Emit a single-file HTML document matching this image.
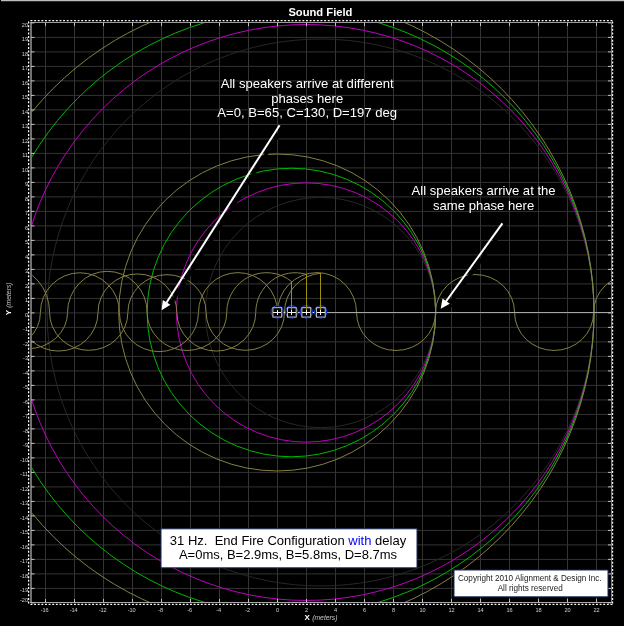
<!DOCTYPE html>
<html><head><meta charset="utf-8"><title>Sound Field</title>
<style>
html,body{margin:0;padding:0;background:#000;}
body{width:624px;height:626px;overflow:hidden;position:relative;font-family:"Liberation Sans",Arial,sans-serif;}
svg{position:absolute;left:0;top:0;display:block}
text{font-family:"Liberation Sans",Arial,sans-serif;}
</style></head><body>
<svg width="624" height="626" viewBox="0 0 624 626">
<defs><clipPath id="c"><rect x="31.0" y="22.6" width="580.0" height="579.8"/></clipPath>
<filter id="bl" x="-20%" y="-20%" width="140%" height="140%"><feGaussianBlur stdDeviation="0.6"/></filter></defs>
<rect x="0" y="0" width="624" height="626" fill="#000"/>
<rect x="1" y="0" width="623" height="1.25" fill="#bdbdbd"/>

<g stroke="#343434" stroke-width="1">
<line x1="45.5" y1="22.6" x2="45.5" y2="602.4"/>
<line x1="74.5" y1="22.6" x2="74.5" y2="602.4"/>
<line x1="103.5" y1="22.6" x2="103.5" y2="602.4"/>
<line x1="132.5" y1="22.6" x2="132.5" y2="602.4"/>
<line x1="161.5" y1="22.6" x2="161.5" y2="602.4"/>
<line x1="190.5" y1="22.6" x2="190.5" y2="602.4"/>
<line x1="219.5" y1="22.6" x2="219.5" y2="602.4"/>
<line x1="248.5" y1="22.6" x2="248.5" y2="602.4"/>
<line x1="277.5" y1="22.6" x2="277.5" y2="602.4"/>
<line x1="306.5" y1="22.6" x2="306.5" y2="602.4"/>
<line x1="335.5" y1="22.6" x2="335.5" y2="602.4"/>
<line x1="364.5" y1="22.6" x2="364.5" y2="602.4"/>
<line x1="393.5" y1="22.6" x2="393.5" y2="602.4"/>
<line x1="422.5" y1="22.6" x2="422.5" y2="602.4"/>
<line x1="451.5" y1="22.6" x2="451.5" y2="602.4"/>
<line x1="480.5" y1="22.6" x2="480.5" y2="602.4"/>
<line x1="509.5" y1="22.6" x2="509.5" y2="602.4"/>
<line x1="538.5" y1="22.6" x2="538.5" y2="602.4"/>
<line x1="567.5" y1="22.6" x2="567.5" y2="602.4"/>
<line x1="596.5" y1="22.6" x2="596.5" y2="602.4"/>
<line x1="31.0" y1="588.40" x2="611.0" y2="588.40"/>
<line x1="31.0" y1="573.90" x2="611.0" y2="573.90"/>
<line x1="31.0" y1="559.40" x2="611.0" y2="559.40"/>
<line x1="31.0" y1="544.90" x2="611.0" y2="544.90"/>
<line x1="31.0" y1="530.40" x2="611.0" y2="530.40"/>
<line x1="31.0" y1="515.90" x2="611.0" y2="515.90"/>
<line x1="31.0" y1="501.40" x2="611.0" y2="501.40"/>
<line x1="31.0" y1="486.90" x2="611.0" y2="486.90"/>
<line x1="31.0" y1="472.40" x2="611.0" y2="472.40"/>
<line x1="31.0" y1="457.90" x2="611.0" y2="457.90"/>
<line x1="31.0" y1="443.40" x2="611.0" y2="443.40"/>
<line x1="31.0" y1="428.90" x2="611.0" y2="428.90"/>
<line x1="31.0" y1="414.40" x2="611.0" y2="414.40"/>
<line x1="31.0" y1="399.90" x2="611.0" y2="399.90"/>
<line x1="31.0" y1="385.40" x2="611.0" y2="385.40"/>
<line x1="31.0" y1="370.90" x2="611.0" y2="370.90"/>
<line x1="31.0" y1="356.40" x2="611.0" y2="356.40"/>
<line x1="31.0" y1="341.90" x2="611.0" y2="341.90"/>
<line x1="31.0" y1="327.40" x2="611.0" y2="327.40"/>
<line x1="31.0" y1="312.90" x2="611.0" y2="312.90"/>
<line x1="31.0" y1="298.40" x2="611.0" y2="298.40"/>
<line x1="31.0" y1="283.90" x2="611.0" y2="283.90"/>
<line x1="31.0" y1="269.40" x2="611.0" y2="269.40"/>
<line x1="31.0" y1="254.90" x2="611.0" y2="254.90"/>
<line x1="31.0" y1="240.40" x2="611.0" y2="240.40"/>
<line x1="31.0" y1="225.90" x2="611.0" y2="225.90"/>
<line x1="31.0" y1="211.40" x2="611.0" y2="211.40"/>
<line x1="31.0" y1="196.90" x2="611.0" y2="196.90"/>
<line x1="31.0" y1="182.40" x2="611.0" y2="182.40"/>
<line x1="31.0" y1="167.90" x2="611.0" y2="167.90"/>
<line x1="31.0" y1="153.40" x2="611.0" y2="153.40"/>
<line x1="31.0" y1="138.90" x2="611.0" y2="138.90"/>
<line x1="31.0" y1="124.40" x2="611.0" y2="124.40"/>
<line x1="31.0" y1="109.90" x2="611.0" y2="109.90"/>
<line x1="31.0" y1="95.40" x2="611.0" y2="95.40"/>
<line x1="31.0" y1="80.90" x2="611.0" y2="80.90"/>
<line x1="31.0" y1="66.40" x2="611.0" y2="66.40"/>
<line x1="31.0" y1="51.90" x2="611.0" y2="51.90"/>
<line x1="31.0" y1="37.40" x2="611.0" y2="37.40"/>
</g>
<g clip-path="url(#c)" fill="none" stroke-width="1">
<ellipse cx="320.56" cy="312.50" rx="115.13" ry="115.13" stroke="#272727"/>
<ellipse cx="320.56" cy="312.50" rx="273.47" ry="273.47" stroke="#272727"/>
<ellipse cx="306.06" cy="312.50" rx="129.63" ry="129.63" stroke="#c000c0"/>
<ellipse cx="306.06" cy="312.50" rx="287.97" ry="287.97" stroke="#c000c0"/>
<ellipse cx="291.42" cy="312.50" rx="144.27" ry="144.27" stroke="#00b800"/>
<ellipse cx="291.42" cy="312.50" rx="302.61" ry="302.61" stroke="#00b800"/>
<ellipse cx="277.21" cy="312.50" rx="158.48" ry="158.48" stroke="#848044"/>
<ellipse cx="277.21" cy="312.50" rx="316.82" ry="316.82" stroke="#848044"/>
<path d="M277.50 312.50 A39.51 39.88 0 0 1 356.52 312.50 M356.52 312.50 A39.51 37.99 0 0 0 435.55 312.50 M435.55 312.50 A39.51 37.99 0 0 1 514.58 312.50 M514.58 312.50 A39.51 37.99 0 0 0 593.60 312.50 M593.60 312.50 A39.51 37.99 0 0 1 672.62 312.50 M672.62 312.50 A39.51 37.99 0 0 0 751.65 312.50 M277.50 312.50 A39.51 39.88 0 0 0 198.47 312.50 M198.47 312.50 A39.51 39.15 0 0 1 119.45 312.50 M119.45 312.50 A39.51 39.73 0 0 0 40.42 312.50 M40.42 312.50 A39.51 36.97 0 0 1 -38.60 312.50 M-38.60 312.50 A39.51 39.73 0 0 0 -117.62 312.50 M-117.62 312.50 A39.51 39.73 0 0 1 -196.65 312.50 M292.00 281.91 A39.80 39.78 0 0 0 226.75 312.50 M226.75 312.50 A39.80 37.99 0 0 1 147.15 312.50 M147.15 312.50 A39.80 41.18 0 0 0 67.54 312.50 M67.54 312.50 A39.80 36.25 0 0 1 -12.06 312.50 M-12.06 312.50 A39.80 41.18 0 0 0 -91.67 312.50 M-91.67 312.50 A39.80 41.18 0 0 1 -171.28 312.50 M306.50 274.41 A39.44 39.76 0 0 0 255.75 312.50 M255.75 312.50 A39.44 38.57 0 0 1 176.87 312.50 M176.87 312.50 A39.44 38.57 0 0 0 97.99 312.50 M97.99 312.50 A39.44 38.57 0 0 1 19.11 312.50 M19.11 312.50 A39.44 38.57 0 0 0 -59.77 312.50 M-59.77 312.50 A39.44 38.57 0 0 1 -138.65 312.50 M321.00 273.19 A39.15 39.40 0 0 0 284.46 312.50 M284.46 312.50 A39.15 37.84 0 0 1 206.16 312.50 M206.16 312.50 A39.15 37.84 0 0 0 127.86 312.50 M127.86 312.50 A39.15 37.84 0 0 1 49.56 312.50 M49.56 312.50 A39.15 44.66 0 0 0 -28.74 312.50 M-28.74 312.50 A39.15 37.84 0 0 1 -107.04 312.50" stroke="#848044"/>
</g>
<line x1="273" y1="312.5" x2="611.0" y2="312.5" stroke="#a6a6a6" stroke-width="1" shape-rendering="crispEdges"/>
<line x1="273" y1="312.5" x2="326" y2="312.5" stroke="#f0f0f0" stroke-width="1" shape-rendering="crispEdges"/>
<circle cx="277.2" cy="311.9" r="6.2" fill="#000" stroke="#1c44e6" stroke-width="1.0"/>
<rect x="272.9" y="307.7" width="8.8" height="9.4" fill="#000" stroke="#cacaca" stroke-width="1"/>
<line x1="274.7" y1="317.4" x2="279.9" y2="317.4" stroke="#3c64ff" stroke-width="1.2"/>
<line x1="273.4" y1="312.5" x2="281.2" y2="312.5" stroke="#f0f0f0" stroke-width="1" shape-rendering="crispEdges"/>
<line x1="277.5" y1="310.0" x2="277.5" y2="315.0" stroke="#f4f4e4" stroke-width="1" shape-rendering="crispEdges"/>
<circle cx="291.7" cy="311.9" r="6.2" fill="#000" stroke="#1c44e6" stroke-width="1.0"/>
<rect x="287.4" y="307.7" width="8.8" height="9.4" fill="#000" stroke="#cacaca" stroke-width="1"/>
<line x1="289.2" y1="317.4" x2="294.4" y2="317.4" stroke="#3c64ff" stroke-width="1.2"/>
<line x1="287.9" y1="312.5" x2="295.7" y2="312.5" stroke="#f0f0f0" stroke-width="1" shape-rendering="crispEdges"/>
<line x1="291.5" y1="310.0" x2="291.5" y2="315.0" stroke="#f4f4e4" stroke-width="1" shape-rendering="crispEdges"/>
<circle cx="306.2" cy="311.9" r="6.2" fill="#000" stroke="#1c44e6" stroke-width="1.0"/>
<rect x="301.9" y="307.7" width="8.8" height="9.4" fill="#000" stroke="#cacaca" stroke-width="1"/>
<line x1="303.7" y1="317.4" x2="308.9" y2="317.4" stroke="#3c64ff" stroke-width="1.2"/>
<line x1="302.4" y1="312.5" x2="310.2" y2="312.5" stroke="#f0f0f0" stroke-width="1" shape-rendering="crispEdges"/>
<line x1="306.5" y1="310.0" x2="306.5" y2="315.0" stroke="#f4f4e4" stroke-width="1" shape-rendering="crispEdges"/>
<circle cx="320.7" cy="311.9" r="6.2" fill="#000" stroke="#1c44e6" stroke-width="1.0"/>
<rect x="316.4" y="307.7" width="8.8" height="9.4" fill="#000" stroke="#cacaca" stroke-width="1"/>
<line x1="318.2" y1="317.4" x2="323.4" y2="317.4" stroke="#3c64ff" stroke-width="1.2"/>
<line x1="316.9" y1="312.5" x2="324.7" y2="312.5" stroke="#f0f0f0" stroke-width="1" shape-rendering="crispEdges"/>
<line x1="320.5" y1="310.0" x2="320.5" y2="315.0" stroke="#f4f4e4" stroke-width="1" shape-rendering="crispEdges"/>
<line x1="291.5" y1="281.9" x2="291.5" y2="310.0" stroke="#9c9006" stroke-width="1" shape-rendering="crispEdges"/>
<line x1="306.5" y1="274.4" x2="306.5" y2="310.0" stroke="#9c9006" stroke-width="1" shape-rendering="crispEdges"/>
<line x1="320.5" y1="273.2" x2="320.5" y2="310.0" stroke="#9c9006" stroke-width="1" shape-rendering="crispEdges"/>
<g fill="none">
<line x1="31" y1="22" x2="31" y2="603" stroke="#707070" stroke-width="2" shape-rendering="crispEdges"/>
<line x1="30" y1="22.5" x2="612" y2="22.5" stroke="#989898" stroke-width="1" shape-rendering="crispEdges"/>
<line x1="611.5" y1="22" x2="611.5" y2="603" stroke="#848484" stroke-width="1" shape-rendering="crispEdges"/>
<line x1="30" y1="602.5" x2="612" y2="602.5" stroke="#a8a8a8" stroke-width="1" shape-rendering="crispEdges"/>
<path d="M31.0 602.9h3.5M611.0 602.9h-3M31.0 588.4h3.5M611.0 588.4h-3M31.0 573.9h3.5M611.0 573.9h-3M31.0 559.4h3.5M611.0 559.4h-3M31.0 544.9h3.5M611.0 544.9h-3M31.0 530.4h3.5M611.0 530.4h-3M31.0 515.9h3.5M611.0 515.9h-3M31.0 501.4h3.5M611.0 501.4h-3M31.0 486.9h3.5M611.0 486.9h-3M31.0 472.4h3.5M611.0 472.4h-3M31.0 457.9h3.5M611.0 457.9h-3M31.0 443.4h3.5M611.0 443.4h-3M31.0 428.9h3.5M611.0 428.9h-3M31.0 414.4h3.5M611.0 414.4h-3M31.0 399.9h3.5M611.0 399.9h-3M31.0 385.4h3.5M611.0 385.4h-3M31.0 370.9h3.5M611.0 370.9h-3M31.0 356.4h3.5M611.0 356.4h-3M31.0 341.9h3.5M611.0 341.9h-3M31.0 327.4h3.5M611.0 327.4h-3M31.0 312.9h3.5M611.0 312.9h-3M31.0 298.4h3.5M611.0 298.4h-3M31.0 283.9h3.5M611.0 283.9h-3M31.0 269.4h3.5M611.0 269.4h-3M31.0 254.9h3.5M611.0 254.9h-3M31.0 240.4h3.5M611.0 240.4h-3M31.0 225.9h3.5M611.0 225.9h-3M31.0 211.4h3.5M611.0 211.4h-3M31.0 196.9h3.5M611.0 196.9h-3M31.0 182.4h3.5M611.0 182.4h-3M31.0 167.9h3.5M611.0 167.9h-3M31.0 153.4h3.5M611.0 153.4h-3M31.0 138.9h3.5M611.0 138.9h-3M31.0 124.4h3.5M611.0 124.4h-3M31.0 109.9h3.5M611.0 109.9h-3M31.0 95.4h3.5M611.0 95.4h-3M31.0 80.9h3.5M611.0 80.9h-3M31.0 66.4h3.5M611.0 66.4h-3M31.0 51.9h3.5M611.0 51.9h-3M31.0 37.4h3.5M611.0 37.4h-3M31.0 22.9h3.5M611.0 22.9h-3M45.5 602.4v-3.5M45.5 22.6v3.5M74.5 602.4v-3.5M74.5 22.6v3.5M103.5 602.4v-3.5M103.5 22.6v3.5M132.5 602.4v-3.5M132.5 22.6v3.5M161.5 602.4v-3.5M161.5 22.6v3.5M190.5 602.4v-3.5M190.5 22.6v3.5M219.5 602.4v-3.5M219.5 22.6v3.5M248.5 602.4v-3.5M248.5 22.6v3.5M277.5 602.4v-3.5M277.5 22.6v3.5M306.5 602.4v-3.5M306.5 22.6v3.5M335.5 602.4v-3.5M335.5 22.6v3.5M364.5 602.4v-3.5M364.5 22.6v3.5M393.5 602.4v-3.5M393.5 22.6v3.5M422.5 602.4v-3.5M422.5 22.6v3.5M451.5 602.4v-3.5M451.5 22.6v3.5M480.5 602.4v-3.5M480.5 22.6v3.5M509.5 602.4v-3.5M509.5 22.6v3.5M538.5 602.4v-3.5M538.5 22.6v3.5M567.5 602.4v-3.5M567.5 22.6v3.5M596.5 602.4v-3.5M596.5 22.6v3.5" stroke="#c0c0c0" stroke-width="1"/>
<line x1="30.50" y1="20.6" x2="613.00" y2="20.6" stroke="#fff" stroke-width="1.2" stroke-dasharray="1.9 1.725"/>
<line x1="30.50" y1="604.3" x2="613.00" y2="604.3" stroke="#fff" stroke-width="1.3" stroke-dasharray="1.9 1.725"/>
<line x1="28.6" y1="21.60" x2="28.6" y2="603.40" stroke="#fff" stroke-width="1.3" stroke-dasharray="1.9 1.7250"/>
<line x1="612.6" y1="21.60" x2="612.6" y2="603.40" stroke="#fff" stroke-width="1.15" stroke-dasharray="1.9 1.7250"/>
</g>
<g fill="#d0d0d0" font-size="5.6px">
<text x="28" y="602.0" text-anchor="end">-20</text>
<text x="28" y="592.2" text-anchor="end">-19</text>
<text x="28" y="577.7" text-anchor="end">-18</text>
<text x="28" y="563.2" text-anchor="end">-17</text>
<text x="28" y="548.7" text-anchor="end">-16</text>
<text x="28" y="534.2" text-anchor="end">-15</text>
<text x="28" y="519.7" text-anchor="end">-14</text>
<text x="28" y="505.2" text-anchor="end">-13</text>
<text x="28" y="490.7" text-anchor="end">-12</text>
<text x="28" y="476.2" text-anchor="end">-11</text>
<text x="28" y="461.7" text-anchor="end">-10</text>
<text x="28" y="447.2" text-anchor="end">-9</text>
<text x="28" y="432.7" text-anchor="end">-8</text>
<text x="28" y="418.2" text-anchor="end">-7</text>
<text x="28" y="403.7" text-anchor="end">-6</text>
<text x="28" y="389.2" text-anchor="end">-5</text>
<text x="28" y="374.7" text-anchor="end">-4</text>
<text x="28" y="360.2" text-anchor="end">-3</text>
<text x="28" y="345.7" text-anchor="end">-2</text>
<text x="28" y="331.2" text-anchor="end">-1</text>
<text x="28" y="316.7" text-anchor="end">0</text>
<text x="28" y="302.2" text-anchor="end">1</text>
<text x="28" y="287.7" text-anchor="end">2</text>
<text x="28" y="273.2" text-anchor="end">3</text>
<text x="28" y="258.7" text-anchor="end">4</text>
<text x="28" y="244.2" text-anchor="end">5</text>
<text x="28" y="229.7" text-anchor="end">6</text>
<text x="28" y="215.2" text-anchor="end">7</text>
<text x="28" y="200.7" text-anchor="end">8</text>
<text x="28" y="186.2" text-anchor="end">9</text>
<text x="28" y="171.7" text-anchor="end">10</text>
<text x="28" y="157.2" text-anchor="end">11</text>
<text x="28" y="142.7" text-anchor="end">12</text>
<text x="28" y="128.2" text-anchor="end">13</text>
<text x="28" y="113.7" text-anchor="end">14</text>
<text x="28" y="99.2" text-anchor="end">15</text>
<text x="28" y="84.7" text-anchor="end">16</text>
<text x="28" y="70.2" text-anchor="end">17</text>
<text x="28" y="55.7" text-anchor="end">18</text>
<text x="28" y="41.2" text-anchor="end">19</text>
<text x="28" y="26.7" text-anchor="end">20</text>
<text x="44.7" y="612" text-anchor="middle">-16</text>
<text x="73.7" y="612" text-anchor="middle">-14</text>
<text x="102.7" y="612" text-anchor="middle">-12</text>
<text x="131.7" y="612" text-anchor="middle">-10</text>
<text x="160.7" y="612" text-anchor="middle">-8</text>
<text x="189.7" y="612" text-anchor="middle">-6</text>
<text x="218.7" y="612" text-anchor="middle">-4</text>
<text x="247.7" y="612" text-anchor="middle">-2</text>
<text x="277.5" y="612" text-anchor="middle">0</text>
<text x="306.5" y="612" text-anchor="middle">2</text>
<text x="335.5" y="612" text-anchor="middle">4</text>
<text x="364.5" y="612" text-anchor="middle">6</text>
<text x="393.5" y="612" text-anchor="middle">8</text>
<text x="422.5" y="612" text-anchor="middle">10</text>
<text x="451.5" y="612" text-anchor="middle">12</text>
<text x="480.5" y="612" text-anchor="middle">14</text>
<text x="509.5" y="612" text-anchor="middle">16</text>
<text x="538.5" y="612" text-anchor="middle">18</text>
<text x="567.5" y="612" text-anchor="middle">20</text>
<text x="596.5" y="612" text-anchor="middle">22</text>
</g>
<text x="304.6" y="619.6" font-size="8px" fill="#fff"><tspan font-weight="bold">X</tspan> <tspan font-style="italic" font-size="6.8px" fill="#c8c8c8">(meters)</tspan></text>
<text transform="translate(10.8,315.3) rotate(-90)" font-size="8px" fill="#fff"><tspan font-weight="bold">Y</tspan> <tspan font-style="italic" font-size="6.8px" fill="#c8c8c8">(meters)</tspan></text>
<text x="320.4" y="16.3" font-size="11.2px" font-weight="bold" fill="#fff" text-anchor="middle">Sound Field</text>
<g transform="translate(3.6,2.3)" filter="url(#bl)"><line x1="279.6" y1="125.2" x2="166.6" y2="302.4" stroke="#000" stroke-width="3.4"/><polygon points="161.6,310.2 162.8,299.9 170.4,304.8" fill="#000"/></g><line x1="279.6" y1="125.2" x2="166.1" y2="303.2" stroke="#fff" stroke-width="2.0"/><polygon points="161.6,310.2 162.8,299.9 170.4,304.8" fill="#fff"/>
<g transform="translate(3.6,2.3)" filter="url(#bl)"><line x1="502.4" y1="223.4" x2="446.2" y2="301.2" stroke="#000" stroke-width="3.4"/><polygon points="440.7,308.7 442.5,298.5 449.8,303.8" fill="#000"/></g><line x1="502.4" y1="223.4" x2="445.6" y2="302.0" stroke="#fff" stroke-width="2.0"/><polygon points="440.7,308.7 442.5,298.5 449.8,303.8" fill="#fff"/>
<g fill="#fff" font-size="13.1px" text-anchor="middle">
<text x="307.2" y="87.8">All speakers arrive at different</text>
<text x="307.2" y="102.6">phases here</text>
<text x="307.2" y="117.4">A=0, B=65, C=130, D=197 deg</text>
<text x="483.6" y="194.9">All speakers arrive at the</text>
<text x="483.6" y="209.7">same phase here</text>
</g>
<rect x="161" y="528.8" width="256" height="39" fill="#fff" stroke="#1c2c5c" stroke-width="1"/>
<g fill="#000" font-size="13px" text-anchor="middle">
<text x="288" y="544.6" xml:space="preserve">31 Hz.  End Fire Configuration <tspan fill="#0000ff">with</tspan> delay</text>
<text x="288" y="558.7">A=0ms, B=2.9ms, B=5.8ms, D=8.7ms</text>
</g>
<rect x="454" y="570" width="154" height="26.8" fill="#fff" stroke="#1c2c5c" stroke-width="1"/>
<g fill="#1a1a1a" font-size="8.15px" text-anchor="middle">
<text x="529.8" y="580.8">Copyright 2010 Alignment &amp; Design Inc.</text>
<text x="530.2" y="590.7">All rights reserved</text>
</g>
</svg></body></html>
